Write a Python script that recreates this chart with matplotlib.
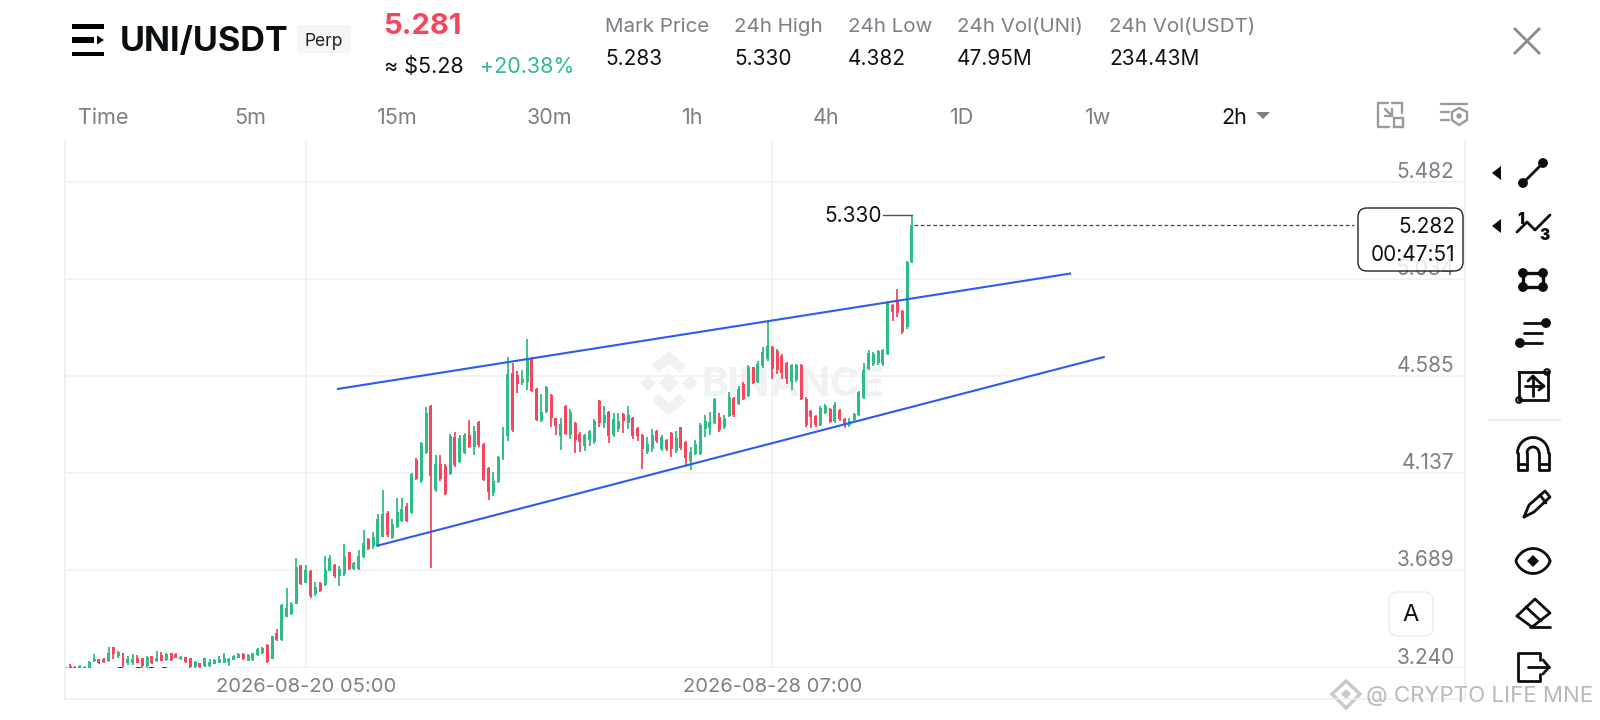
import numpy as np
import matplotlib
matplotlib.use("Agg")
import matplotlib.pyplot as plt
from matplotlib.patches import FancyBboxPatch, Polygon, Circle, Rectangle

plt.rcParams["font.family"] = ["Inter", "DejaVu Sans"]

highs = [
    3.247,3.255,3.247,3.252,3.247,3.270,3.301,3.281,3.286,3.334,
    3.337,3.315,3.310,3.292,3.303,3.297,3.287,3.295,3.295,3.315,
    3.312,3.306,3.310,3.306,3.294,3.290,3.286,3.270,3.264,3.287,
    3.278,3.278,3.292,3.306,3.286,3.297,3.309,3.306,3.301,3.310,
    3.329,3.334,3.349,3.387,3.418,3.532,3.607,3.543,3.744,3.716,
    3.716,3.689,3.635,3.635,3.755,3.758,3.718,3.709,3.810,3.776,
    3.727,3.784,3.875,3.840,3.866,3.949,4.060,3.961,3.924,4.021,
    4.021,3.998,4.140,4.207,4.283,4.441,4.452,4.223,4.221,4.180,
    4.316,4.327,4.313,4.321,4.383,4.355,4.378,4.276,4.167,4.144,
    4.216,4.349,4.672,4.644,4.609,4.613,4.756,4.672,4.532,4.503,
    4.539,4.503,4.393,4.392,4.452,4.433,4.373,4.326,4.318,4.336,
    4.386,4.475,4.449,4.424,4.416,4.416,4.416,4.447,4.398,4.349,
    4.318,4.306,4.339,4.336,4.315,4.296,4.327,4.330,4.352,4.284,
    4.259,4.290,4.367,4.406,4.419,4.484,4.413,4.407,4.512,4.490,
    4.539,4.559,4.635,4.629,4.653,4.721,4.841,4.724,4.709,4.685,
    4.650,4.639,4.642,4.642,4.487,4.429,4.407,4.447,4.456,4.436,
    4.465,4.435,4.390,4.390,4.413,4.515,4.647,4.705,4.696,4.705,
    4.708,4.933,4.918,4.985,4.890,5.118,5.330,
]
lows = [
    3.229,3.229,3.229,3.229,3.232,3.237,3.266,3.255,3.261,3.266,
    3.281,3.286,3.244,3.252,3.252,3.260,3.241,3.241,3.258,3.266,
    3.270,3.272,3.270,3.283,3.275,3.263,3.241,3.241,3.241,3.244,
    3.244,3.255,3.261,3.261,3.249,3.275,3.283,3.275,3.270,3.270,
    3.294,3.303,3.263,3.278,3.364,3.364,3.474,3.484,3.532,3.623,
    3.629,3.561,3.572,3.589,3.618,3.684,3.653,3.615,3.664,3.690,
    3.690,3.690,3.747,3.783,3.787,3.798,3.841,3.844,3.835,3.883,
    3.910,3.910,3.949,4.106,4.090,4.226,3.700,4.052,4.100,4.035,
    4.127,4.167,4.183,4.226,4.252,4.223,4.260,4.103,4.012,4.033,
    4.090,4.198,4.286,4.329,4.509,4.546,4.521,4.510,4.378,4.372,
    4.413,4.349,4.312,4.244,4.312,4.293,4.230,4.233,4.241,4.264,
    4.272,4.349,4.347,4.276,4.303,4.329,4.321,4.340,4.293,4.287,
    4.155,4.226,4.236,4.278,4.241,4.241,4.210,4.229,4.244,4.175,
    4.152,4.219,4.222,4.306,4.313,4.364,4.329,4.341,4.398,4.398,
    4.450,4.475,4.487,4.549,4.552,4.624,4.656,4.570,4.595,4.570,
    4.549,4.521,4.559,4.475,4.352,4.344,4.352,4.355,4.410,4.370,
    4.370,4.379,4.347,4.349,4.379,4.401,4.478,4.613,4.633,4.636,
    4.633,4.681,4.841,4.856,4.779,4.801,5.105,
]
opens = [
    3.232,3.246,3.243,3.236,3.236,3.240,3.270,3.279,3.282,3.270,
    3.334,3.295,3.308,3.262,3.262,3.285,3.285,3.246,3.293,3.270,
    3.300,3.276,3.308,3.304,3.278,3.288,3.284,3.243,3.262,3.247,
    3.250,3.258,3.264,3.264,3.266,3.277,3.286,3.304,3.273,3.275,
    3.298,3.306,3.345,3.281,3.400,3.368,3.476,3.490,3.536,3.712,
    3.632,3.687,3.580,3.630,3.622,3.688,3.712,3.665,3.672,3.772,
    3.695,3.695,3.752,3.835,3.800,3.802,3.845,3.955,3.840,3.890,
    3.915,3.985,3.955,4.200,4.100,4.232,4.448,4.060,4.178,4.170,
    4.135,4.305,4.190,4.232,4.315,4.260,4.372,4.272,4.160,4.045,
    4.095,4.205,4.310,4.598,4.590,4.552,4.560,4.668,4.525,4.380,
    4.420,4.500,4.390,4.310,4.445,4.315,4.368,4.320,4.262,4.290,
    4.280,4.470,4.370,4.420,4.315,4.340,4.410,4.370,4.394,4.345,
    4.312,4.235,4.250,4.332,4.250,4.292,4.322,4.240,4.348,4.280,
    4.195,4.225,4.228,4.340,4.345,4.370,4.395,4.350,4.403,4.485,
    4.456,4.550,4.492,4.625,4.558,4.630,4.665,4.718,4.700,4.680,
    4.645,4.560,4.565,4.638,4.480,4.425,4.403,4.360,4.415,4.432,
    4.376,4.430,4.386,4.360,4.382,4.405,4.482,4.618,4.640,4.645,
    4.640,4.685,4.912,4.935,4.885,4.810,5.110,
]
closes = [
    3.243,3.235,3.234,3.246,3.243,3.268,3.281,3.262,3.265,3.306,
    3.303,3.312,3.247,3.278,3.281,3.264,3.250,3.290,3.262,3.287,
    3.273,3.302,3.274,3.286,3.291,3.266,3.245,3.268,3.245,3.284,
    3.266,3.275,3.280,3.285,3.281,3.293,3.305,3.278,3.298,3.306,
    3.325,3.330,3.266,3.385,3.368,3.530,3.517,3.535,3.706,3.628,
    3.690,3.570,3.612,3.594,3.690,3.745,3.665,3.695,3.755,3.695,
    3.722,3.755,3.815,3.788,3.845,3.925,3.950,3.850,3.905,3.960,
    3.970,3.915,4.135,4.110,4.275,4.415,4.125,4.180,4.110,4.040,
    4.310,4.175,4.300,4.312,4.258,4.330,4.266,4.108,4.050,4.100,
    4.210,4.320,4.595,4.335,4.550,4.570,4.665,4.515,4.382,4.420,
    4.535,4.392,4.355,4.365,4.320,4.420,4.290,4.280,4.315,4.330,
    4.380,4.370,4.405,4.310,4.385,4.380,4.380,4.405,4.310,4.310,
    4.250,4.270,4.315,4.285,4.305,4.250,4.250,4.300,4.255,4.205,
    4.235,4.270,4.360,4.380,4.375,4.480,4.335,4.390,4.490,4.405,
    4.525,4.480,4.625,4.555,4.640,4.695,4.725,4.620,4.615,4.600,
    4.570,4.635,4.635,4.480,4.358,4.395,4.358,4.440,4.445,4.375,
    4.450,4.385,4.360,4.380,4.408,4.510,4.612,4.690,4.685,4.700,
    4.705,4.925,4.880,4.875,4.790,5.110,5.282,
]

price_ticks = [5.482, 5.034, 4.585, 4.137, 3.689, 3.240]
time_ticks = [50, 147]
time_labels = ["2026-08-20 05:00", "2026-08-28 07:00"]
upper_x, upper_y = [56.7, 208.9], [4.526, 5.058]
lower_x, lower_y = [64.9, 215.9], [3.803, 4.673]
last_price = 5.282
high_price = 5.330

tabs = ["Time", "5m", "15m", "30m", "1h", "4h", "1D", "1w"]
tab_pos = [103, 250, 397, 550, 693, 826, 962, 1098]
stat_names = ["Mark Price", "24h High", "24h Low", "24h Vol(UNI)", "24h Vol(USDT)"]
stat_values = ["5.283", "5.330", "4.382", "47.95M", "234.43M"]
stat_pos = [605, 734, 848, 957, 1109]

GREEN = "#2ebd85"
RED = "#f6465d"
GRID = "#f0f0f0"
GRAY = "#7c7f85"

fig = plt.figure(figsize=(16, 7.2), dpi=100, facecolor="white")

# chart area, pixel box x 65-1465, y 140-668
ax = fig.add_axes([65 / 1600, 1 - 668 / 720, 1400 / 1600, 528 / 720])
ax.set_xlim(-0.06, 291.0)
ax.set_ylim(3.2387, 5.674)
for s in ax.spines.values():
    s.set_visible(False)
ax.set_axisbelow(True)
ax.grid(True, color=GRID, lw=1.1)
ax.yaxis.tick_right()
ax.set_yticks(price_ticks, [f"{p:.3f}" for p in price_ticks])
ax.set_xticks(time_ticks, time_labels)
ax.tick_params(axis="y", length=0, pad=-7.5, labelsize=15, labelcolor=GRAY)
ax.tick_params(axis="x", length=0, pad=7.5, labelsize=14.5, labelcolor=GRAY)
for lbl in ax.get_yticklabels():
    lbl.set_ha("right")
    lbl.set_va("bottom")

# overlay in pixel coordinates for header, toolbar and icons
ui = fig.add_axes([0, 0, 1, 1], zorder=5)
ui.set_xlim(0, 1600)
ui.set_ylim(720, 0)
ui.axis("off")

# watermark sits under the candles
WM = "#f0f1f3"
wm = dict(color=WM, lw=7, solid_capstyle="butt", transform=ui.transData, zorder=0.6, solid_joinstyle="miter")
ax.add_patch(Polygon([(669, 374), (678, 383), (669, 392), (660, 383)], color=WM, transform=ui.transData, zorder=0.6))
ax.add_patch(Polygon([(648, 376), (655, 383), (648, 390), (641, 383)], color=WM, transform=ui.transData, zorder=0.6))
ax.add_patch(Polygon([(690, 376), (697, 383), (690, 390), (683, 383)], color=WM, transform=ui.transData, zorder=0.6))
ax.plot([655, 669, 683], [369, 357, 369], **wm)
ax.plot([655, 669, 683], [397, 409, 397], **wm)
ax.text(793, 385, "BINANCE", transform=ui.transData, color=WM, fontsize=29, fontweight="bold",
        ha="center", va="center", zorder=0.6)

# candles
x = np.arange(len(closes))
colors = [GREEN if c >= o else RED for o, c in zip(opens, closes)]
ax.vlines(x, lows, highs, colors=colors, lw=1.3, zorder=3)
ax.bar(x, np.abs(np.array(closes) - np.array(opens)), bottom=np.minimum(opens, closes),
       width=0.62, color=colors, zorder=3)

# trend lines
ax.plot(upper_x, upper_y, color="#2d5bf0", lw=1.5, zorder=4)
ax.plot(lower_x, lower_y, color="#2d5bf0", lw=1.5, zorder=4)

# last price and high marker
ax.plot([x[-1] + 0.4, 268.0], [last_price, last_price], color="#444444", lw=0.9, ls=(0, (3, 2)), zorder=4)
ax.plot([x[-1] - 6, x[-1]], [high_price, high_price], color="#555555", lw=1, zorder=4)
ax.text(x[-1] - 6.3, high_price - 0.005, f"{high_price:.3f}", fontsize=15, color="#111111", ha="right", va="center", zorder=4)
ax.text(10, 3.243, "3.098", fontsize=15, color="#111111", ha="left", va="top", clip_on=True, zorder=4)

# frame
for xs, ys in [([65, 65], [140, 699]), ([1465, 1465], [140, 699]), ([65, 1465], [699, 699])]:
    ui.plot(xs, ys, color="#eeeeee", lw=1.1)

# price label box
box = FancyBboxPatch((1358, 208), 105, 63, boxstyle="round,pad=0,rounding_size=9",
                     fc=(1, 1, 1, 0.82), ec="#222222", lw=1)
ui.add_patch(box)
ui.text(1455, 227, "5.282", fontsize=15, color="#111111", ha="right", va="center")
ui.text(1455, 255, "00:47:51", fontsize=15, color="#111111", ha="right", va="center")

# header
for y0, y1, x0, x1 in [(24, 28.5, 72, 104), (51.5, 56, 72, 104), (37, 43, 72, 94)]:
    ui.add_patch(Rectangle((x0, y0), x1 - x0, y1 - y0, fc="black", lw=0))
ui.add_patch(Polygon([(97, 35.5), (104, 40), (97, 44.5)], fc="black", lw=0))
ui.text(120, 42, "UNI/USDT", fontsize=24.6, fontweight="bold", color="#0b0e11", va="center")
ui.add_patch(FancyBboxPatch((297, 25), 54, 28, boxstyle="round,pad=0,rounding_size=4", fc="#f5f5f5", ec="none"))
ui.text(324, 41, "Perp", fontsize=12.5, color="#222222", ha="center", va="center")
ui.text(383, 27, "5.281", fontsize=21, fontweight="bold", color=RED, va="center")
ui.text(384, 67, "≈ $5.28", fontsize=15.5, color="#111111", va="center")
ui.text(480, 67, "+20.38%", fontsize=15.5, color=GREEN, va="center")
for name, val, xp in zip(stat_names, stat_values, stat_pos):
    ui.text(xp, 27, name, fontsize=14.8, color=GRAY, va="center")
    ui.text(xp, 59, val, fontsize=15, color="#111111", va="center")
ui.plot([1515, 1539], [29, 53], color="#8b8b8b", lw=2)
ui.plot([1515, 1539], [53, 29], color="#8b8b8b", lw=2)

# interval tabs
for name, xp in zip(tabs, tab_pos):
    ui.text(xp, 118, name, fontsize=15.5, color=GRAY, ha="center", va="center")
ui.text(1234, 118, "2h", fontsize=15.5, color="#111111", ha="center", va="center")
ui.add_patch(Polygon([(1256, 112), (1270, 112), (1263, 119)], fc=GRAY, lw=0))

# top right icons
g = dict(color="#9a9a9a", lw=1.7, solid_capstyle="round")
ui.plot([1388, 1378, 1378, 1389], [103, 103, 127, 127], **g)
ui.plot([1392, 1402, 1402], [103, 103, 113], **g)
ui.plot([1385, 1392], [109, 116], **g)
ui.plot([1385, 1392, 1392], [116, 116, 109], **g)
ui.add_patch(Rectangle((1394, 118), 9, 9, fc="white", ec="#9a9a9a", lw=1.7))
ui.plot([1441, 1467], [104, 104], **g)
ui.plot([1441, 1449], [112, 112], **g)
ui.plot([1441, 1449], [120, 120], **g)
ui.add_patch(Polygon([(1459, 108), (1467, 112), (1467, 120), (1459, 125), (1452, 120), (1452, 112)],
                     fc="white", ec="#9a9a9a", lw=1.7))
ui.add_patch(Circle((1459, 116), 2, color="#9a9a9a"))

# right toolbar
k = dict(color="#0b0e11", lw=2, solid_capstyle="round", solid_joinstyle="round")
dot = lambda px, py, r=4.2: ui.add_patch(Circle((px, py), r, color="#0b0e11"))
for yp in [173, 226]:
    ui.add_patch(Polygon([(1492, yp), (1501, yp - 7), (1501, yp + 7)], fc="#0b0e11", lw=0))
ui.plot([1523, 1543], [183, 163], **k)
dot(1523, 183)
dot(1543, 163)
ui.text(1521, 219, "1", fontsize=11, fontweight="black", color="#0b0e11", ha="center", va="center")
ui.text(1545, 236, "3", fontsize=11, fontweight="black", color="#0b0e11", ha="center", va="center")
ui.plot([1517, 1527, 1535, 1550], [232, 222, 230, 215], **k)
ui.plot([1523, 1543, 1543, 1523, 1523], [273, 273, 287, 287, 273], color="#0b0e11", lw=2.4)
for px, py in [(1523, 273), (1543, 273), (1523, 287), (1543, 287)]:
    dot(px, py)
ui.plot([1524, 1546], [323, 323], **k)
ui.plot([1524, 1542], [333, 333], **k)
ui.plot([1520, 1542], [343, 343], **k)
dot(1546, 323)
dot(1520, 343)
ui.plot([1519, 1548, 1548, 1519, 1519], [372, 372, 400, 400, 372], color="#0b0e11", lw=2)
for px, py in [(1547, 372), (1519, 400)]:
    ui.add_patch(Circle((px, py), 2.8, fc="white", ec="#0b0e11", lw=1.5))
ui.plot([1533, 1533], [377, 396], **k)
ui.plot([1525, 1543], [386, 386], **k)
ui.plot([1528, 1533, 1538], [381, 376, 381], **k)
ui.plot([1539, 1544, 1539], [382, 386, 390], **k)
ui.plot([1489, 1560], [420, 420], color="#e8e8e8", lw=1.3)

t = np.linspace(np.pi, 2 * np.pi, 40)
ui.plot(1533 + 15.5 * np.cos(t), 453 + 15.5 * np.sin(t), **k)
ui.plot(1533 + 6 * np.cos(t), 453 + 6 * np.sin(t), **k)
ui.plot([1517.5, 1517.5, 1527, 1527], [453, 470, 470, 453], **k)
ui.plot([1539, 1539, 1548.5, 1548.5], [453, 470, 470, 453], **k)
ui.plot([1517.5, 1527], [464, 464], **k)
ui.plot([1539, 1548.5], [464, 464], **k)
ui.plot([1524, 1529, 1545, 1550, 1534, 1524, 1524], [517, 505, 491, 497, 512, 517, 517], **k)
ui.plot([1540, 1546], [495, 503], **k)
t = np.linspace(0, 2 * np.pi, 60)
ui.plot(1533 + 17 * np.cos(t), 561 + 12.5 * np.sin(t) * np.abs(np.sin(t)) ** 0.4, **k)
ui.add_patch(Polygon([(1533, 555), (1539, 561), (1533, 567), (1527, 561)], fc="#0b0e11", lw=0))
ui.plot([1517, 1535, 1550, 1532, 1517], [616, 599, 613, 627, 616], **k)
ui.plot([1526, 1541], [607, 621], **k)
ui.plot([1530, 1550], [627, 627], **k)
ui.plot([1540, 1540, 1518, 1518, 1540, 1540], [660, 653, 653, 681, 681, 674], **k)
ui.plot([1528, 1549], [667, 667], **k)
ui.plot([1543, 1549, 1543], [660, 667, 674], **k)

# auto button
ui.add_patch(FancyBboxPatch((1389, 592), 44, 44, boxstyle="round,pad=0,rounding_size=9", fc="white", ec="#eeeeee", lw=1.2))
ui.text(1411, 615, "A", fontsize=17, color="#111111", ha="center", va="center")

# source watermark bottom right
ui.add_patch(Polygon([(1346, 681), (1360, 694), (1346, 708), (1332, 694)], fc="none", ec="#c9c9c9", lw=2.5))
ui.add_patch(Polygon([(1346, 689), (1351, 694), (1346, 699), (1341, 694)], fc="#c9c9c9", lw=0))
ui.text(1366, 696, "@ CRYPTO LIFE MNE", fontsize=16, color="#b9b9b9", va="center", clip_on=True)

fig.savefig("out.png", dpi=100)
